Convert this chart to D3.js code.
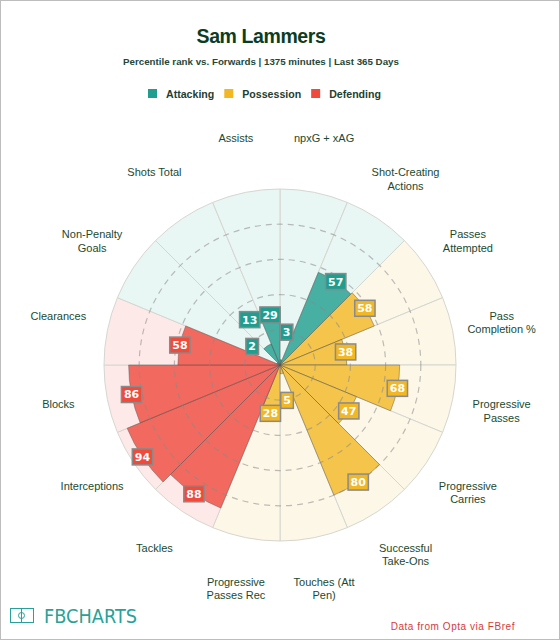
<!DOCTYPE html>
<html>
<head>
<meta charset="utf-8">
<script src="https://cdn.jsdelivr.net/npm/d3@7"></script>
<style>
  body { margin: 0; background: #fff; }
  svg { display: block; }
</style>
</head>
<body>
<div id="chart"></div>
<script>
// data
var categories = ["npxG + xAG", "Shot-Creating Actions", "Passes Attempted", "Pass Completion %",
  "Progressive Passes", "Progressive Carries", "Successful Take-Ons", "Touches (Att Pen)",
  "Progressive Passes Rec", "Tackles", "Interceptions", "Blocks", "Clearances",
  "Non-Penalty Goals", "Shots Total", "Assists"];
var groups = ["Attacking", "Attacking", "Possession", "Possession", "Possession", "Possession",
  "Possession", "Possession", "Possession", "Defending", "Defending", "Defending", "Defending",
  "Attacking", "Attacking", "Attacking"];
var percentiles = [3, 57, 58, 38, 68, 47, 80, 5, 28, 88, 94, 86, 58, 2, 13, 29];
var legendGroups = ["Attacking", "Possession", "Defending"];
var gridTicks = [20, 40, 60, 80];

var width = 560, height = 640;
var cx = 280, cy = 365, outer = 176;
var headX = 261; // header block sits a little left of centre

var mainColor = d3.scaleOrdinal().domain(legendGroups).range(["#1f9e8f", "#f2b824", "#ef4a3c"]);
var bgColor = d3.scaleOrdinal().domain(legendGroups).range(["#e8f6f4", "#fdf7e7", "#fdeae8"]);

var svg = d3.select("#chart").append("svg")
    .attr("width", width)
    .attr("height", height);

svg.append("rect")
    .attr("x", 0.5).attr("y", 0.5)
    .attr("width", width - 1).attr("height", height - 1)
    .attr("fill", "#fff")
    .attr("stroke", "#bdbdbd");

// title
svg.append("text")
    .attr("x", headX).attr("y", 43)
    .attr("text-anchor", "middle")
    .style("font-family", "Liberation Sans, Arial, sans-serif")
    .style("font-weight", "bold")
    .style("font-size", "19.5px")
    .style("letter-spacing", "-0.4px")
    .attr("fill", "#0c3d22")
    .text("Sam Lammers");

svg.append("text")
    .attr("x", headX).attr("y", 65)
    .attr("text-anchor", "middle")
    .style("font-family", "Liberation Sans, Arial, sans-serif")
    .style("font-weight", "bold")
    .style("font-size", "9.75px")
    .attr("fill", "#24473a")
    .text("Percentile rank vs. Forwards | 1375 minutes | Last 365 Days");

// legend
var legend = svg.append("g").attr("transform", "translate(148,0)");
var lx = 0;
legendGroups.forEach(function(g) {
    legend.append("rect")
        .attr("x", lx).attr("y", 89)
        .attr("width", 9).attr("height", 9)
        .attr("fill", mainColor(g));
    var t = legend.append("text")
        .attr("x", lx + 18).attr("y", 98)
        .style("font-family", "Liberation Sans, Arial, sans-serif")
        .style("font-size", "10.6px")
        .style("font-weight", "bold")
        .attr("fill", "#1f4030")
        .text(g);
    lx += 18 + t.node().getComputedTextLength() + 10;
});

// scales
var r = d3.scaleLinear().domain([0, 100]).range([0, outer]);
var angle = d3.scaleBand().domain(categories).range([0, 2 * Math.PI]);

var rows = categories.map(function(c, i) {
    return { cat: c, group: groups[i], value: percentiles[i] };
});

var plot = svg.append("g").attr("transform", "translate(" + cx + "," + cy + ")");

var arc = d3.arc()
    .innerRadius(0)
    .startAngle(function(d) { return angle(d.cat); })
    .endAngle(function(d) { return angle(d.cat) + angle.bandwidth(); });

// background wedges
plot.selectAll("path.bg")
    .data(rows)
    .enter()
    .append("path")
    .attr("class", "bg")
    .attr("d", function(d) { return arc.outerRadius(r(100))(d); })
    .attr("fill", function(d) { return bgColor(d.group); })
    .attr("stroke", "#d6d6d0")
    .attr("stroke-width", 1);

// bars
plot.selectAll("path.bar")
    .data(rows)
    .enter()
    .append("path")
    .attr("class", "bar")
    .attr("d", function(d) { return arc.outerRadius(r(d.value))(d); })
    .attr("fill", function(d) { return mainColor(d.group); })
    .attr("fill-opacity", 0.8)
    .attr("stroke", "#555")
    .attr("stroke-opacity", 0.45)
    .attr("stroke-width", 1);

// dashed rings
plot.selectAll("circle.grid")
    .data(gridTicks)
    .enter()
    .append("circle")
    .attr("class", "grid")
    .attr("r", function(d) { return r(d); })
    .attr("fill", "none")
    .attr("stroke", "#888")
    .attr("stroke-opacity", 0.55)
    .attr("stroke-width", 1.2)
    .attr("stroke-dasharray", "6,5");

// category labels
function mid(d) { return angle(d.cat) + angle.bandwidth() / 2; }

var labelR = outer + 50;
plot.selectAll("text.cat")
    .data(rows)
    .enter()
    .append("text")
    .attr("class", "cat")
    .attr("text-anchor", "middle")
    .style("font-family", "Liberation Sans, Arial, sans-serif")
    .style("font-size", "11px")
    .attr("fill", "#1b4a30")
    .each(function(d) {
        var el = d3.select(this);
        var a = mid(d);
        var x = labelR * Math.sin(a), y = -labelR * Math.cos(a);
        // wrap words at ~72px
        var words = d.cat.split(" "), lines = [], line = [];
        var probe = el.append("tspan");
        words.forEach(function(w) {
            line.push(w);
            probe.text(line.join(" "));
            if (probe.node().getComputedTextLength() > 72 && line.length > 1) {
                line.pop();
                lines.push(line.join(" "));
                line = [w];
            }
        });
        lines.push(line.join(" "));
        probe.remove();
        lines.forEach(function(l, i) {
            el.append("tspan")
                .attr("x", x)
                .attr("y", y - 1 + i * 13.5)
                .text(l);
        });
    });

// value labels, nudged outward when they would collide
var minLabel = 19;
var boxes = rows.map(function(d) {
    return { d: d, clamped: d.value < minLabel, rv: Math.max(d.value, minLabel) };
});

var labels = plot.selectAll("g.val")
    .data(boxes)
    .enter()
    .append("g")
    .attr("class", "val");

labels.append("text")
    .attr("text-anchor", "middle")
    .style("font-family", "DejaVu Sans, Verdana, sans-serif")
    .style("font-weight", "bold")
    .style("font-size", "11px")
    .attr("fill", "#fff")
    .attr("dy", "0.36em")
    .text(function(b) { return b.d.value; })
    .each(function(b) { b.w = this.getComputedTextLength() + 5; b.h = 16; });

function place(b) {
    var a = mid(b.d);
    b.x = r(b.rv) * Math.sin(a);
    b.y = -r(b.rv) * Math.cos(a);
}
function hits(b, o) {
    return Math.abs(b.x - o.x) < (b.w + o.w) / 2 && Math.abs(b.y - o.y) < (b.h + o.h) / 2;
}

var placed = [];
boxes.filter(function(b) { return !b.clamped; }).forEach(function(b) { place(b); placed.push(b); });
boxes.filter(function(b) { return b.clamped; }).forEach(function(b) {
    place(b);
    while (placed.some(function(o) { return hits(b, o); }) && b.rv < 100) {
        b.rv += 0.5;
        place(b);
    }
    placed.push(b);
});

labels.attr("transform", function(b) { return "translate(" + b.x + "," + b.y + ")"; });

labels.insert("rect", "text")
    .attr("x", function(b) { return -b.w / 2; })
    .attr("y", -8)
    .attr("width", function(b) { return b.w; })
    .attr("height", 16)
    .attr("fill", function(b) { return mainColor(b.d.group); })
    .attr("stroke", "#8a8a8a")
    .attr("stroke-width", 1.5);

// footer logo
var logo = svg.append("g").attr("fill", "none").attr("stroke", "#2aa198");
logo.append("rect").attr("x", 10.5).attr("y", 608.5).attr("width", 23).attr("height", 14).attr("stroke-width", 1);
logo.append("line").attr("x1", 21.5).attr("x2", 21.5).attr("y1", 608.5).attr("y2", 622.5);
logo.append("circle").attr("cx", 21.5).attr("cy", 615.5).attr("r", 3);

svg.append("text")
    .attr("x", 44).attr("y", 623)
    .attr("textLength", 93)
    .attr("lengthAdjust", "spacingAndGlyphs")
    .style("font-family", "DejaVu Sans, sans-serif")
    .style("font-size", "19px")
    .style("font-weight", "normal")
    .attr("fill", "#2aa198")
    .text("FBCHARTS");

svg.append("text")
    .attr("x", 515).attr("y", 630)
    .attr("text-anchor", "end")
    .style("font-family", "Liberation Sans, Arial, sans-serif")
    .style("font-size", "10px")
    .style("letter-spacing", "0.55px")
    .attr("fill", "#d63b3b")
    .text("Data from Opta via FBref");
</script>
</body>
</html>
